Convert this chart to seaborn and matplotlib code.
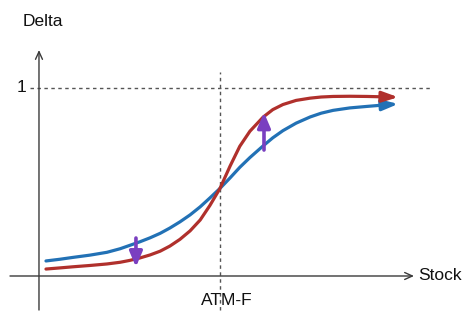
import matplotlib
matplotlib.use("Agg")
import matplotlib.pyplot as plt
import seaborn as sns
import pandas as pd

# Stock levels (ATM forward at 100) and delta of the two profiles
stock = [60.45, 63.6, 66.6, 70.45, 74.3, 77.3, 79.5, 81.8, 84.1, 86.4,
         88.6, 90.9, 93.2, 95.5, 97.7, 100.0, 102.3, 104.5, 106.8, 109.8,
         112.0, 114.3, 117.3, 120.5, 123.0, 125.7, 129.5, 133.4, 137.0, 140.5]
delta_blue = [0.080, 0.089, 0.099, 0.111, 0.126, 0.145, 0.163, 0.182, 0.203, 0.227,
              0.255, 0.288, 0.325, 0.368, 0.415, 0.466, 0.522, 0.578, 0.630, 0.692,
              0.735, 0.773, 0.813, 0.846, 0.866, 0.881, 0.894, 0.902, 0.909, 0.915]
delta_red = [0.037, 0.043, 0.049, 0.056, 0.064, 0.073, 0.083, 0.096, 0.112, 0.132,
             0.159, 0.195, 0.240, 0.298, 0.375, 0.466, 0.585, 0.690, 0.770, 0.845,
             0.885, 0.912, 0.934, 0.946, 0.952, 0.955, 0.956, 0.955, 0.953, 0.951]

atm_forward = 100
delta_one = 1.0

# Delta shifts shown by the purple arrows: (stock, from, to)
shifts = [(80.9, 0.202, 0.048), (110.0, 0.670, 0.870)]

BLUE = "#2271b5"
RED = "#b0302c"
PURPLE = "#7a3fc0"
GREY = "#3a3a3a"

sns.set_theme(style="white")
plt.rcParams["font.family"] = ["Liberation Sans", "DejaVu Sans"]

fig = plt.figure(figsize=(4.74, 3.23), dpi=100)
ax = fig.add_axes([0, 0, 1, 1])
ax.set_xlim(50.0, 157.73)
ax.set_ylim(-0.25, 1.468)
ax.axis("off")

df = pd.DataFrame({"stock": stock * 2,
                   "delta": delta_blue + delta_red,
                   "curve": ["blue"] * len(stock) + ["red"] * len(stock)})
body = df[df["stock"] < stock[-1]]
sns.lineplot(data=body, x="stock", y="delta", hue="curve",
             palette={"blue": BLUE, "red": RED}, lw=2.3, legend=False,
             ax=ax, sort=True, zorder=3, solid_joinstyle="round",
             solid_capstyle="round")

# arrowheads on the curve ends
for vals, col in [(delta_blue, BLUE), (delta_red, RED)]:
    ax.annotate("", xy=(stock[-1], vals[-1]), xytext=(stock[-2], vals[-2]),
                arrowprops=dict(arrowstyle="-|>,head_length=0.95,head_width=0.32",
                                color=col, lw=2.3, shrinkA=0, shrinkB=0,
                                mutation_scale=10), zorder=3)

# axes drawn as arrows
axis_head = "->,head_length=0.55,head_width=0.25"
ax.annotate("", xy=(144.09, 0), xytext=(52.27, 0),
            arrowprops=dict(arrowstyle=axis_head, color=GREY, lw=1.0,
                            shrinkA=0, shrinkB=0, mutation_scale=10))
ax.annotate("", xy=(58.86, 1.202), xytext=(58.86, -0.181),
            arrowprops=dict(arrowstyle=axis_head, color=GREY, lw=1.0,
                            shrinkA=0, shrinkB=0, mutation_scale=10))

# reference lines
ax.plot([56.82, 147.73], [delta_one, delta_one], color="#555555", lw=1.0,
        ls=(0, (2.5, 2.5)), zorder=1)
ax.plot([atm_forward, atm_forward], [-0.181, 1.085], color="#555555", lw=1.0,
        ls=(0, (2.5, 2.5)), zorder=1)

# delta shifts
for s, d0, d1 in shifts:
    ax.annotate("", xy=(s, d1), xytext=(s, d0),
                arrowprops=dict(arrowstyle="-|>,head_length=0.9,head_width=0.38",
                                color=PURPLE, lw=2.6, shrinkA=0, shrinkB=0,
                                mutation_scale=10), zorder=4)

ax.text(59.66, 1.351, "Delta", fontsize=12.5, color="#111111", ha="center", va="center")
ax.text(55.0, delta_one, "1", fontsize=12.5, color="#111111", ha="center", va="center")
ax.text(150.0, 0.0, "Stock", fontsize=12.5, color="#111111", ha="center", va="center")
ax.text(101.6, -0.128, "ATM-F", fontsize=12.5, color="#111111", ha="center", va="center")

fig.savefig("out.png", dpi=100)
